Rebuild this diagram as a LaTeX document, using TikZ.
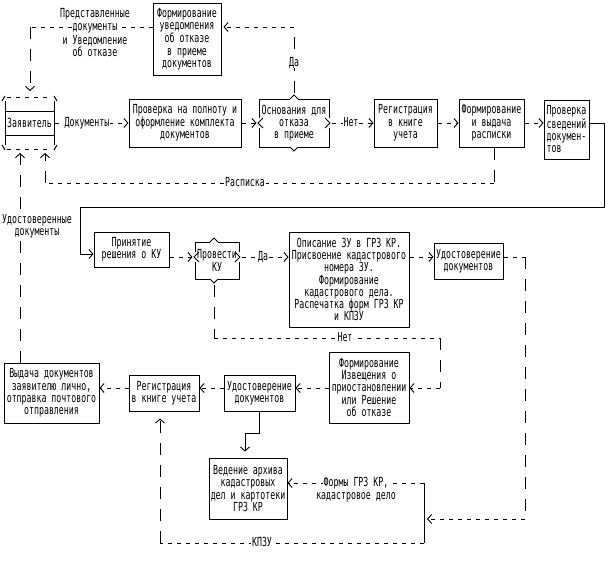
\documentclass[tikz,border=0pt]{standalone}
\usepackage{fontspec}
\setmainfont[FakeStretch=0.66]{DejaVu Sans Mono}
\usetikzlibrary{arrows.meta}
\newcommand\myfont{\fontsize{12.5}{12.3}\selectfont}
\begin{document}
\begin{tikzpicture}[x=1pt,y=-1pt,line width=1pt,
  box/.style={draw,inner sep=0pt,align=center,font=\myfont},
  lbl/.style={inner sep=1pt,align=center,font=\myfont},
  wlbl/.style={inner xsep=1pt,inner ysep=0pt,text height=8pt,text depth=2pt,fill=white,font=\myfont},
  conn/.style={dash pattern=on 4pt off 5pt},
  vconn/.style={dash pattern=on 12pt off 10pt},
  tip/.style={-{Straight Barb[length=4pt,width=9pt,line width=0.9pt]}}]
\useasboundingbox[fill=white] (0,0) rectangle (610,560);

% ---------- nodes ----------
\node[box,minimum width=68,minimum height=72] (uved) at (187,39)
  {Формирование\\уведомления\\об отказе\\в приеме\\документов};
\node[box,minimum width=49,minimum height=24] (zayav) at (29.5,123) {Заявитель};
\node[box,minimum width=112,minimum height=48] (prov1) at (185,123)
  {Проверка на полноту и\\оформление комплекта\\документов};
\node[box,minimum width=70,minimum height=48] (osn) at (294,123)
  {Основания для\\отказа\\в приеме};
\node[box,minimum width=63,minimum height=48] (reg1) at (405.5,123)
  {Регистрация\\в книге\\учета};
\node[box,minimum width=65,minimum height=48] (form1) at (491.5,123)
  {Формирование\\и выдача\\расписки};
\node[box,align=left,minimum width=45,minimum height=59] (prov2) at (566.5,129.5)
  {Проверка\\сведений\\докумен-\\тов};
\node[box,minimum width=75,minimum height=35] (prin) at (131.5,249.5)
  {Принятие\\решения о КУ};
\node[box,minimum width=44,minimum height=37] (provesti) at (217,260.5)
  {Провести\\КУ};
\node[box,minimum width=120,minimum height=95] (opis) at (349,279.5)
  {Описание ЗУ в ГРЗ КР.\\Присвоение кадастрового\\номера ЗУ.\\Формирование\\кадастрового дела.\\Распечатка форм ГРЗ КР\\и КПЗУ};
\node[box,minimum width=69,minimum height=36] (udost1) at (468.5,261)
  {Удостоверение\\документов};
\node[box,minimum width=80,minimum height=71] (izv) at (369,387.5)
  {Формирование\\Извещения о\\приостановлении\\или Решение\\об отказе};
\node[box,minimum width=71,minimum height=36] (udost2) at (259.5,393)
  {Удостоверение\\документов};
\node[box,minimum width=70,minimum height=36] (reg2) at (164,393)
  {Регистрация\\в книге учета};
\node[box,minimum width=95,minimum height=60] (vyd) at (51.5,393)
  {Выдача документов\\заявителю лично,\\отправка почтового\\отправления};
\node[box,minimum width=78,minimum height=61] (ved) at (248,488.5)
  {Ведение архива\\кадастровых\\дел и картотеки\\ГРЗ КР};

% ---------- Заявитель decoration ----------
\draw (5,101) -- (5,145);
\draw (54,101) -- (54,145);
\draw (2,101) -- (5,96);
\draw[conn] (7,97) -- (52,97);
\draw (54,96) -- (57,101);
\draw (2,145) -- (5,150);
\draw[conn] (7,149) -- (52,149);
\draw (54,150) -- (57,145);

% ---------- decision marks ----------
\fill[white] (290,98) rectangle (298,100);
\draw (290,99) -- (294,95) -- (298,99);
\fill[white] (290,146) rectangle (298,148);
\draw (290,147) -- (294,151) -- (298,147);
\fill[white] (258,118) rectangle (260,128);
\draw (263,118) -- (258,123) -- (263,128);
\fill[white] (328,118) rectangle (330,128);
\draw (325,118) -- (330,123) -- (325,128);

\fill[white] (210,241) rectangle (218,243);
\draw (210,242) -- (214,238) -- (218,242);
\fill[white] (210,278) rectangle (218,280);
\draw (210,279) -- (214,283) -- (218,279);
\fill[white] (194,252) rectangle (196,262);
\draw (199,252) -- (194,257) -- (199,262);
\fill[white] (238,252) rectangle (240,262);
\draw (235,252) -- (240,257) -- (235,262);

% ---------- coordinates ----------
\coordinate (u1) at (30,27);
\coordinate (u2) at (30,91);
\coordinate (d1) at (294,93);
\coordinate (d2) at (294,27);
\coordinate (p1) at (604,123);
\coordinate (p2) at (604,207);
\coordinate (p3) at (80,207);
\coordinate (p4) at (80,254);
\coordinate (s1) at (494,183);
\coordinate (s2) at (45,183);
\coordinate (s3) at (45,153);
\coordinate (t1) at (20,153);
\coordinate (q1) at (525,257);
\coordinate (q2) at (525,519);
\coordinate (j1) at (424,483);
\coordinate (j2) at (424,543);
\coordinate (j3) at (424,519);
\coordinate (k1) at (160,543);
\coordinate (n0) at (214,285);
\coordinate (n1) at (214,338);
\coordinate (n2) at (440,338);
\coordinate (n3) at (440,388);
\coordinate (r3) at (0,388);
\coordinate (m1) at (259,433);
\coordinate (m2) at (245,433);

% ---------- connectors ----------
\draw[conn] (uved.west |- u1) -- (u1);
\draw[vconn,tip] (u1) -- (u2);
\node[lbl] at (95,14) {Представленные};
\node[wlbl] at (95,27) {документы};
\node[lbl] at (95,46) {и Уведомление\\об отказе};

\draw[vconn] (d1) -- (d2);
\draw[conn,tip,shorten >=2pt] (d2) -- (uved.east |- d2);
\node[wlbl] at (294,63) {Да};

\draw[conn,tip] (zayav.east) -- (prov1.west);
\node[wlbl] at (87,123) {Документы};
\draw[conn,tip,shorten >=2pt] (prov1.east) -- (osn.west);
\draw[conn,tip,shorten <=2pt] (osn.east) -- (reg1.west);
\node[wlbl] at (351,123) {Нет};
\draw[conn,tip] (reg1.east) -- (form1.west);
\draw[conn,tip] (form1.east) -- ([yshift=6.5pt]prov2.west);

\draw[tip] ([yshift=6.5pt]prov2.east) -- (p1) -- (p2) -- (p3) -- (p4) -- ([yshift=-4.5pt]prin.west);

\draw[vconn] (form1.south -| s1) -- (s1);
\draw[conn] (s1) -- (s2);
\draw[vconn,tip] (s2) -- (s3);
\node[wlbl] at (245,183) {Расписка};

\draw[vconn,tip] (vyd.north -| t1) -- (t1);
\node[lbl,fill=white] at (37,226) {Удостоверенные\\документы};

\draw[conn,tip,shorten >=2pt] ([yshift=-7.5pt]prin.east) -- ([yshift=3.5pt]provesti.west);
\draw[conn,tip,shorten <=2pt] ([yshift=3.5pt]provesti.east) -- ([yshift=22.5pt]opis.west);
\node[wlbl] at (263,257) {Да};
\draw[conn,tip] ([yshift=22.5pt]opis.east) -- ([yshift=4pt]udost1.west);

\draw[conn] ([yshift=4pt]udost1.east) -- (q1);
\draw[vconn] (q1) -- (q2);
\draw[conn,tip,shorten >=3pt] (q2) -- (j3);
\draw (j1) -- (j2);
\draw[conn,tip] (j1) -- (ved.east |- j1);
\node[wlbl] at (356,483) {Формы ГРЗ КР,};
\node[lbl] at (356,497) {кадастровое дело};
\draw[conn] (j2) -- (k1);
\draw[vconn,tip,shorten >=7pt] (k1) -- (reg2.south -| k1);
\node[wlbl] at (262,543) {КПЗУ};

\draw[vconn] (n0) -- (n1);
\draw[conn] (n1) -- (n2);
\draw[vconn] (n2) -- (n3);
\draw[conn,tip] (n3) -- (izv.east |- n3);
\node[wlbl] at (345,338) {Нет};

\draw[conn,tip] (izv.west |- r3) -- (udost2.east |- r3);
\draw[conn,tip] (udost2.west |- r3) -- (reg2.east |- r3);
\draw[conn,tip] (reg2.west |- r3) -- (vyd.east |- r3);

\draw (udost2.south) -- (m1 -| udost2.south) -- (m2);
\draw[tip,shorten >=6pt] (m2) -- (ved.north -| m2);
\end{tikzpicture}
\end{document}
